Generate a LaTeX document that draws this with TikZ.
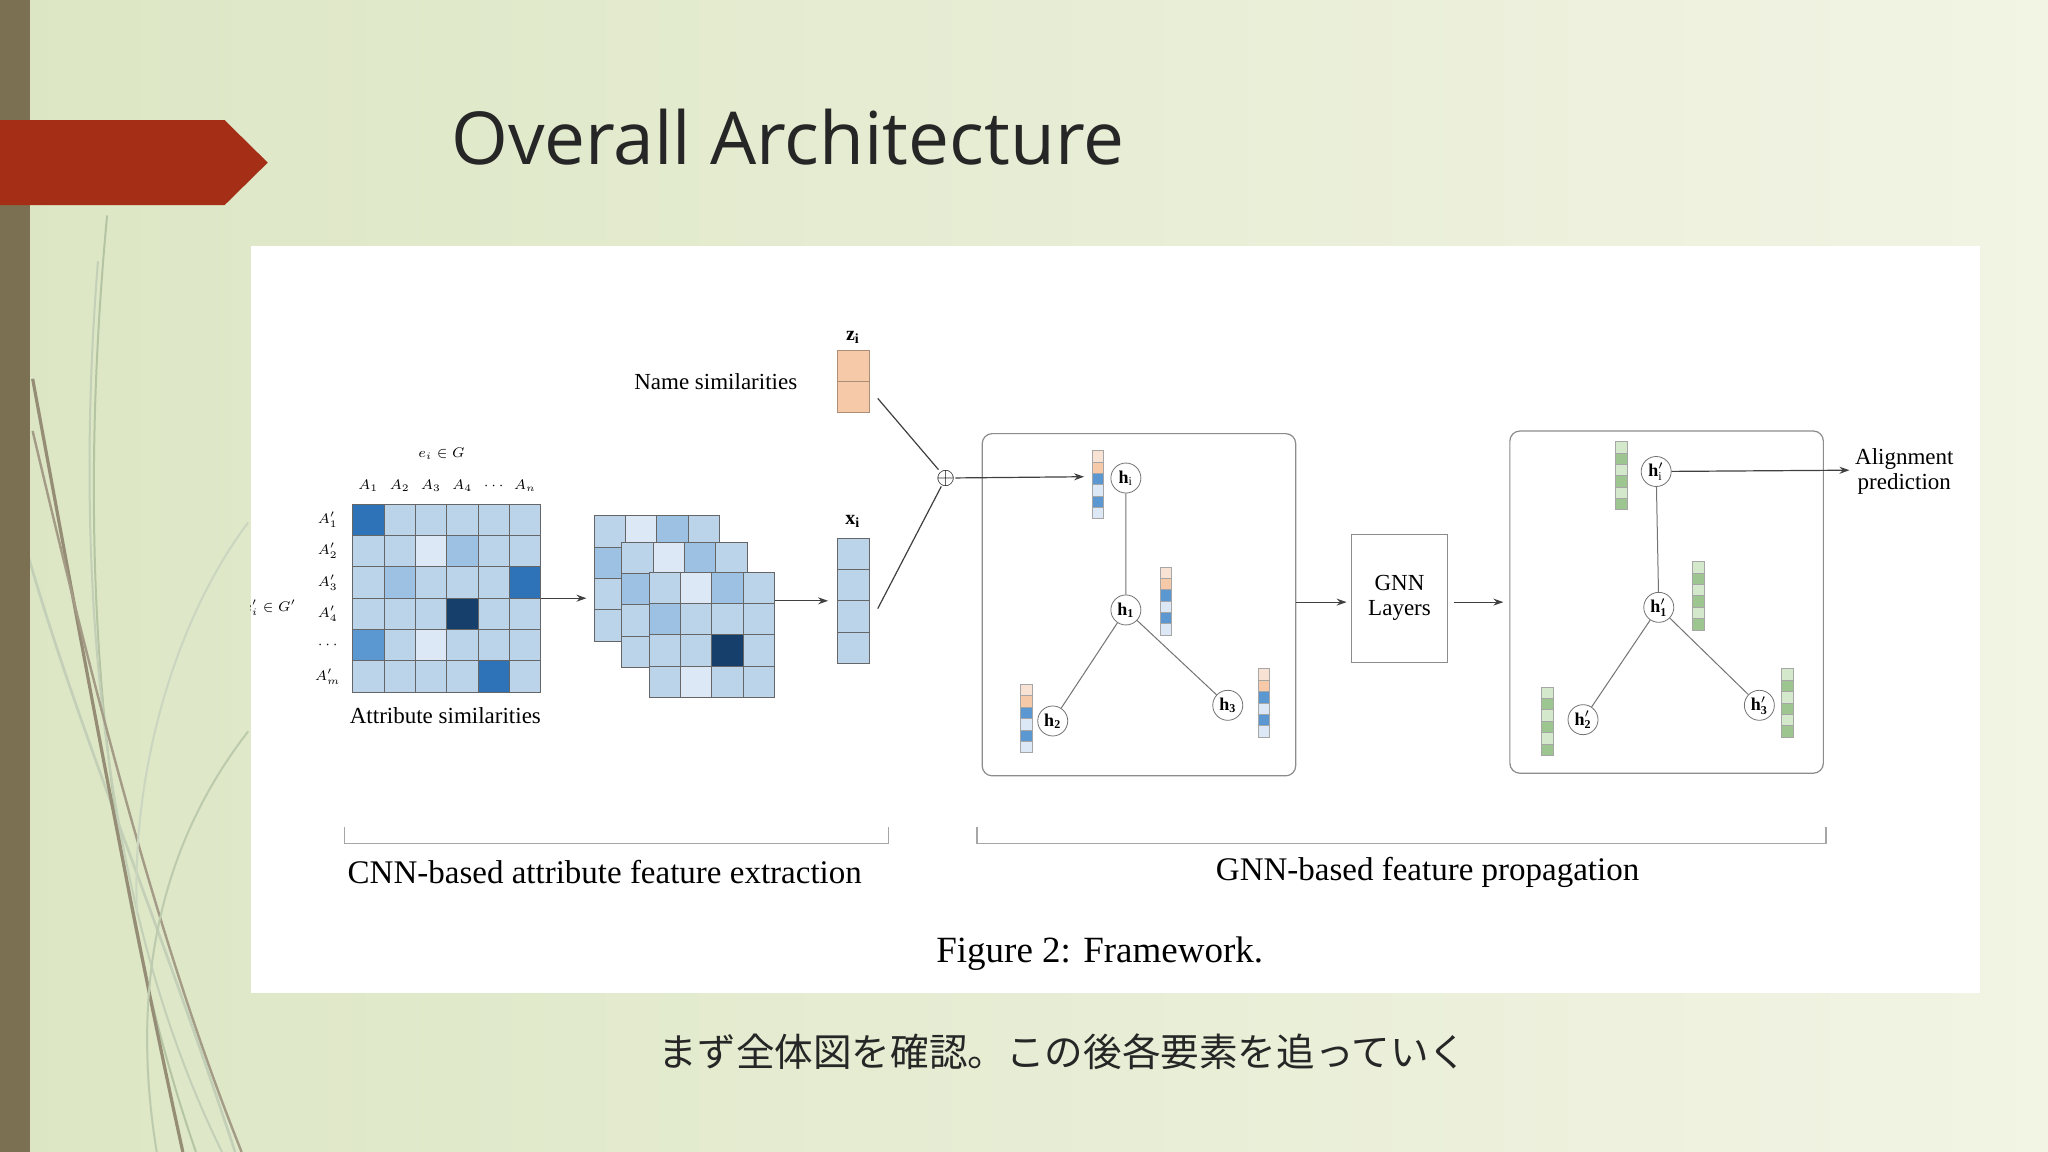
\documentclass[tikz,border=0pt]{standalone}
\usepackage{fontspec}
\setmainfont{Liberation Serif}
\newfontfamily\titlefont{Open Sans}
\newfontfamily\cjk{Noto Sans CJK JP}
\usetikzlibrary{arrows.meta}
\definecolor{bgA}{HTML}{DCE6C4}
\definecolor{bgB}{HTML}{F2F4E4}
\definecolor{barc}{HTML}{7B7052}
\definecolor{redc}{HTML}{A52F16}
\definecolor{cl}{HTML}{BCD4EA}
\definecolor{cv}{HTML}{DCE8F5}
\definecolor{cm}{HTML}{9DC1E2}
\definecolor{cd}{HTML}{2E72B8}
\definecolor{cx}{HTML}{173F6B}
\definecolor{cs}{HTML}{5B97D0}
\definecolor{pe}{HTML}{F6C9A8}
\definecolor{pv}{HTML}{F8E2D4}
\definecolor{gr}{HTML}{9CC590}
\definecolor{gv}{HTML}{D4E8CC}
\definecolor{lnc}{HTML}{6A8A4A}
\tikzset{
 cell/.style={draw=black!60,line width=0.5pt},
 conn/.style={draw=black!75,line width=0.6pt},
 arr/.style={conn,-{Stealth[length=5pt,width=3.5pt]}},
 hnode/.style={circle,draw=black!55,fill=white,minimum size=15pt,inner sep=0pt,font=\fontsize{9}{9}\selectfont\bfseries},
 gbox/.style={draw=black!45,rounded corners=5pt,line width=0.6pt},
 lab/.style={font=\fontsize{11.5}{12.5}\selectfont},
 small/.style={font=\fontsize{7.5}{8}\selectfont},
}
\newcommand{\vcells}[3]{%
 \foreach \c [count=\k from 0] in {#3} {
   \fill[\c] (#1,{#2+\k*8.7}) rectangle ({#1+9},{#2+\k*8.7+8.7});
   \draw[black!35,line width=0.3pt] (#1,{#2+\k*8.7}) rectangle ({#1+9},{#2+\k*8.7+8.7});
 }}
\begin{document}
\begin{tikzpicture}[x=0.653pt,y=-0.653pt]
\useasboundingbox (0,0) rectangle (1568,882);
\shade[left color=bgA,right color=bgB] (0,0) rectangle (1568,882);
% decorative lines
\begin{scope}
\clip (0,0) rectangle (1568,882);
\draw[lnc!50,line width=1pt] (82,165) .. controls (60,400) and (70,650) .. (150,882);
\draw[lnc!40,line width=1pt] (75,200) .. controls (55,450) and (80,700) .. (170,882);
\draw[lnc!40,line width=1.3pt] (20,420) .. controls (60,560) and (120,700) .. (180,882);
\draw[barc!80,line width=1.6pt] (25,290) .. controls (60,480) and (100,700) .. (140,882);
\draw[barc!70,line width=1.2pt] (25,330) .. controls (70,520) and (120,720) .. (185,882);
\draw[lnc!45,line width=1pt] (190,560) .. controls (120,650) and (100,760) .. (120,882);
\draw[lnc!35,line width=1pt] (190,400) .. controls (130,480) and (100,600) .. (105,700);
\end{scope}
\fill[barc] (0,0) rectangle (23,882);
\fill[redc] (0,92) -- (172,92) -- (205,124.5) -- (172,157) -- (0,157) -- cycle;
\node[font=\titlefont\fontsize{36.5}{40}\selectfont,text=black!85,anchor=west] (title) at (340,105) {Overall Architecture};
% panel
\fill[white] (192,188) rectangle (1516,760);
\begin{scope}
\clip (192,188) rectangle (1516,760);
\node[small,anchor=east] (eg2) at (232,465) {$e'_i\in G'$};
\end{scope}
% attribute matrix
\foreach \r/\row in {0/{cd,cl,cl,cl,cl,cl},1/{cl,cl,cv,cm,cl,cl},2/{cl,cm,cl,cl,cl,cd},3/{cl,cl,cl,cx,cl,cl},4/{cs,cl,cv,cl,cl,cl},5/{cl,cl,cl,cl,cd,cl}}
 \foreach \c [count=\k from 0] in \row
   \filldraw[cell,fill=\c] ({270+\k*24},{386+\r*24}) rectangle +(24,24);
\coordinate (mE) at (414,458);
\node[small] (eg) at (338,347) {$e_i\in G$};
\foreach \t [count=\k from 0] in {A_1,A_2,A_3,A_4,\cdots,A_n}
  \node[small] (ca\k) at ({282+\k*24},372) {$\t$};
\foreach \t [count=\k from 0] in {A'_1,A'_2,A'_3,A'_4,\cdots,A'_m}
  \node[small] (ra\k) at (251,{398+\k*24}) {$\t$};
\node[lab] (attr) at (341,548) {Attribute similarities};
% stacked feature maps
\foreach \ox/\oy/\row in {455/395/{cl,cv,cm,cl,cm,cl,cl,cl,cl,cv,cl,cl,cl,cl,cl,cl},476/415/{cl,cv,cm,cl,cm,cl,cv,cl,cl,cl,cm,cl,cl,cl,cl,cl},497/438/{cl,cv,cm,cl,cm,cl,cl,cl,cl,cl,cx,cl,cl,cv,cl,cl}}
 \foreach \c [count=\k from 0] in \row {
   \pgfmathtruncatemacro\cc{mod(\k,4)}\pgfmathtruncatemacro\rr{div(\k,4)}
   \filldraw[cell,fill=\c] ({\ox+\cc*24},{\oy+\rr*24}) rectangle +(24,24);
 }
\coordinate (sW) at (449,458);
\coordinate (sE) at (593,460);
\coordinate (xW) at (634,460);
\draw[arr] (mE) -- (sW);
\draw[arr] (sE) -- (xW);
% vectors x_i and z_i
\foreach \k in {0,...,3} \filldraw[cell,fill=cl] (641,{412+\k*24}) rectangle +(25,24);
\foreach \k in {0,1} \filldraw[cell,draw=pe!70!black,fill=pe] (641,{268+\k*24}) rectangle +(25,24);
\node[font=\fontsize{10}{10}\selectfont\bfseries] (xl) at (653,399) {x$_\mathbf{i}$};
\node[font=\fontsize{10}{10}\selectfont\bfseries] (zl) at (653,258) {z$_\mathbf{i}$};
\node[lab] (name) at (548,292) {Name similarities};
\node[inner sep=0pt,font=\fontsize{12}{12}\selectfont] (plus) at (724,366) {$\oplus$};
\coordinate (zE) at (672,305);
\coordinate (xE) at (672,466);
\draw[conn] (zE) -- (plus);
\draw[conn] (xE) -- (plus);
% GNN box 1
\draw[gbox] (752,332) rectangle (992,594);
\node[hnode] (hi) at (862,366) {h$_\mathrm{i}$};
\node[hnode] (h1) at (862,467) {h$_\mathbf{1}$};
\node[hnode] (h2) at (806,552) {h$_\mathbf{2}$};
\node[hnode] (h3) at (940,540) {h$_\mathbf{3}$};
\draw[conn,black!55,line width=0.5pt] (hi) -- (h1) (h1) -- (h2) (h1) -- (h3);
\coordinate (viW) at (830,365);
\draw[arr] (plus) -- (viW);
\vcells{836}{345}{pv,pe,cs,cv,cs,cv}
\vcells{888}{434}{pv,pe,cs,cv,cs,cv}
\vcells{781}{524}{pv,pe,cs,cv,cs,cv}
\vcells{963}{512}{pv,pe,cs,cv,cs,cv}
% GNN layers
\draw[draw=black!45,line width=0.6pt] (1035,409) rectangle (1108,507);
\node[lab,align=center] (gnn) at (1071.5,458) {GNN\\Layers};
\coordinate (b1E) at (992,461); \coordinate (gW) at (1031,461);
\coordinate (gE) at (1113,461); \coordinate (b2W) at (1151,461);
\draw[arr] (b1E) -- (gW);
\draw[arr] (gE) -- (b2W);
% GNN box 2
\draw[gbox] (1156,330) rectangle (1396,592);
\node[hnode] (gi) at (1268,361) {h$'_\mathrm{i}$};
\node[hnode] (g1) at (1270,465) {h$'_\mathbf{1}$};
\node[hnode] (g2) at (1212,551) {h$'_\mathbf{2}$};
\node[hnode] (g3) at (1347,540) {h$'_\mathbf{3}$};
\draw[conn,black!55,line width=0.5pt] (gi) -- (g1) (g1) -- (g2) (g1) -- (g3);
\vcells{1237}{338}{gv,gr,gv,gr,gv,gr}
\vcells{1296}{430}{gv,gr,gv,gr,gv,gr}
\vcells{1180}{526}{gv,gr,gv,gr,gv,gr}
\vcells{1364}{512}{gv,gr,gv,gr,gv,gr}
\node[lab,align=center] (align) at (1458,361) {Alignment\\prediction};
\coordinate (alW) at (1416,360);
\draw[arr] (gi) -- (alW);
% brackets
\draw[black!35,line width=0.6pt] (264,633) -- (264,646) -- (680,646) -- (680,633);
\draw[black!35,line width=0.6pt] (748,633) -- (748,646) -- (1398,646) -- (1398,633);
\node[font=\fontsize{16.5}{18}\selectfont] (cnnl) at (463,668) {CNN-based attribute feature extraction};
\node[font=\fontsize{16.5}{18}\selectfont] (gnnl) at (1093,668) {GNN-based feature propagation};
\node[font=\fontsize{18.5}{20}\selectfont] (fig) at (842,730) {Figure 2: Framework.};
\node[font=\cjk\fontsize{19.3}{21}\selectfont,text=black!85] (jp) at (814,805) {まず全体図を確認。この後各要素を追っていく};
\end{tikzpicture}
\end{document}
